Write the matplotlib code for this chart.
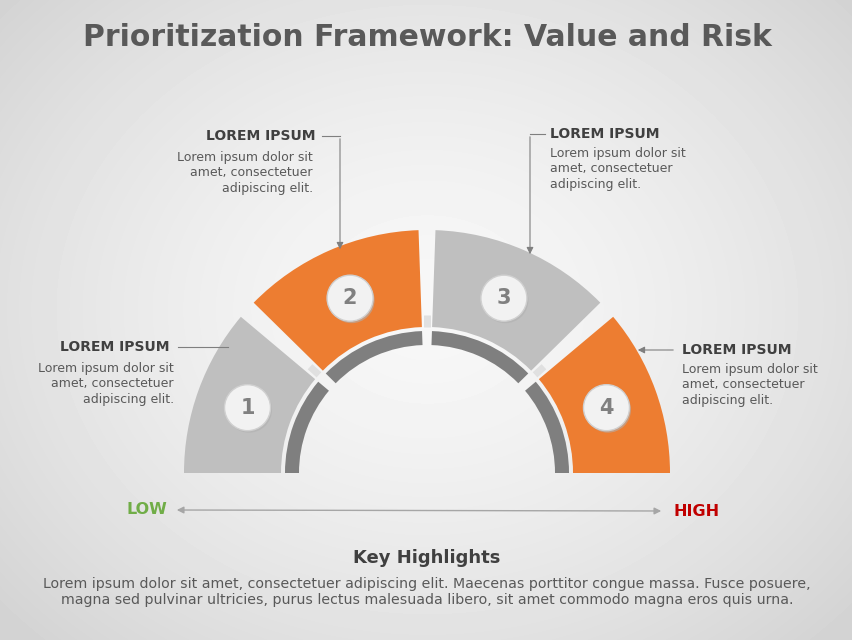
import numpy as np
import matplotlib.pyplot as plt
from matplotlib.patches import Wedge, Circle

# ---- content ----
TITLE = "Prioritization Framework: Value and Risk"
SEG_NUMBERS = ["1", "2", "3", "4"]
SEG_ANGLES = [(180, 140), (135.5, 92), (88, 44.5), (40, 0)]
SEG_COLORS = ["#bfbfbf", "#ed7d31", "#bfbfbf", "#ed7d31"]
HEAD = "LOREM IPSUM"
BODY = "Lorem ipsum dolor sit\namet, consectetuer\nadipiscing elit."
HIGHLIGHT_TITLE = "Key Highlights"
HIGHLIGHT_TEXT = ("Lorem ipsum dolor sit amet, consectetuer adipiscing elit. Maecenas porttitor congue massa. Fusce posuere,\n"
                  "magna sed pulvinar ultricies, purus lectus malesuada libero, sit amet commodo magna eros quis urna.")

W, H = 853, 640
fig = plt.figure(figsize=(W / 100, H / 100), dpi=100)
ax = fig.add_axes([0, 0, 1, 1])
ax.set_xlim(0, W)
ax.set_ylim(0, H)
ax.axis("off")

# radial background
yy, xx = np.mgrid[0:H, 0:W]
d = np.sqrt(((xx - 427) / 560) ** 2 + ((yy - 330) / 460) ** 2)
bg = 0.97 - 0.14 * np.clip(d, 0, 1) ** 1.5
ax.imshow(bg, cmap="gray", vmin=0, vmax=1, extent=[0, W, 0, H], origin="lower", zorder=0)

def Y(y):
    return H - y

cx, cy = 427, Y(473)
R_OUT, R_IN = 243, 146

for (a1, a0), col, num in zip(SEG_ANGLES, SEG_COLORS, SEG_NUMBERS):
    ax.add_patch(Wedge((cx, cy), R_OUT, a0, a1, width=R_OUT - R_IN, facecolor=col, edgecolor="none", zorder=2))
    ax.add_patch(Wedge((cx, cy), 142, a0, a1, width=14, facecolor="#7f7f7f", edgecolor="none", zorder=2))
    mid = np.deg2rad((a0 + a1) / 2)
    px, py = cx + 191 * np.cos(mid), cy + 191 * np.sin(mid)
    ax.add_patch(Circle((px + 1.5, py - 2), 23, facecolor="#b0b0b0", alpha=0.6, zorder=3))
    ax.add_patch(Circle((px, py), 23, facecolor="#f2f2f2", edgecolor="#d0d0d0", lw=1, zorder=4))
    ax.text(px, py, num, ha="center", va="center", fontsize=15, fontweight="bold", color="#808080", zorder=5)

# light connectors in gaps
for ang in [137.75, 90, 42.25]:
    t = np.deg2rad(ang)
    ax.plot([cx + 146 * np.cos(t), cx + 158 * np.cos(t)], [cy + 146 * np.sin(t), cy + 158 * np.sin(t)],
            color="#e0e0e0", lw=5, zorder=1.5, solid_capstyle="butt")

ax.text(427, Y(38), TITLE, ha="center", va="center", fontsize=21.5, fontweight="bold", color="#595959")

hd = dict(fontsize=10, fontweight="bold", color="#404040")
bd = dict(fontsize=9, color="#595959", linespacing=1.25)
lc = "#7f7f7f"
# label 1
ax.text(170, Y(347), HEAD, ha="right", va="center", **hd)
ax.text(174, Y(362), BODY, ha="right", va="top", **bd)
ax.plot([178, 228], [Y(347), Y(347)], color=lc, lw=0.8)
# label 2
ax.text(316, Y(136), HEAD, ha="right", va="center", **hd)
ax.text(313, Y(151), BODY, ha="right", va="top", **bd)
ax.plot([322, 340], [Y(136), Y(136)], color=lc, lw=0.8)
ax.annotate("", xy=(340, Y(252)), xytext=(340, Y(136)),
            arrowprops=dict(arrowstyle="-|>", color=lc, lw=0.8, mutation_scale=10))
# label 3
ax.text(550, Y(134), HEAD, ha="left", va="center", **hd)
ax.text(550, Y(147), BODY, ha="left", va="top", **bd)
ax.plot([545, 530], [Y(134), Y(134)], color=lc, lw=0.8)
ax.annotate("", xy=(530, Y(257)), xytext=(530, Y(134)),
            arrowprops=dict(arrowstyle="-|>", color=lc, lw=0.8, mutation_scale=10))
# label 4
ax.text(682, Y(350), HEAD, ha="left", va="center", **hd)
ax.text(682, Y(363), BODY, ha="left", va="top", **bd)
ax.annotate("", xy=(635, Y(350)), xytext=(676, Y(350)),
            arrowprops=dict(arrowstyle="-|>", color=lc, lw=0.8, mutation_scale=10))

# low / high axis
ax.text(147, Y(510), "LOW", ha="center", va="center", fontsize=11.5, fontweight="bold", color="#70ad47")
ax.text(697, Y(511), "HIGH", ha="center", va="center", fontsize=11.5, fontweight="bold", color="#c00000")
ax.annotate("", xy=(664, Y(511)), xytext=(174, Y(510)),
            arrowprops=dict(arrowstyle="<|-|>", color="#a6a6a6", lw=1, mutation_scale=10))

ax.text(427, Y(558), HIGHLIGHT_TITLE, ha="center", va="center", fontsize=13, fontweight="bold", color="#404040")
ax.text(427, Y(592), HIGHLIGHT_TEXT, ha="center", va="center", fontsize=10.2, color="#595959", linespacing=1.2)

fig.savefig("out.png", dpi=100)
